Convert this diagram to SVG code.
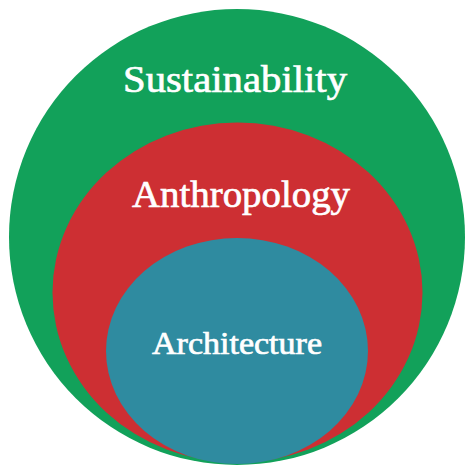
<svg xmlns="http://www.w3.org/2000/svg" width="474" height="474" viewBox="0 0 474 474">
  <style>
    .lbl { font-family: "Liberation Serif", "DejaVu Serif", serif; fill: #ffffff; stroke: #ffffff; stroke-width: 0.7; text-anchor: middle; }
  </style>
  <rect width="474" height="474" fill="#ffffff"/>
  <g id="sustainability">
    <circle cx="237" cy="237" r="228" fill="#12a15a"/>
    <text class="lbl" x="235" y="92" font-size="38" textLength="224" lengthAdjust="spacingAndGlyphs">Sustainability</text>
  </g>
  <g id="anthropology">
    <ellipse cx="237.5" cy="292.5" rx="185" ry="170" fill="#cd2f33"/>
    <text class="lbl" x="241" y="207" font-size="38" textLength="218" lengthAdjust="spacingAndGlyphs">Anthropology</text>
  </g>
  <g id="architecture">
    <ellipse cx="237" cy="351" rx="131" ry="113" fill="#2f8ba0"/>
    <text class="lbl" x="237" y="354" font-size="31" textLength="170" lengthAdjust="spacingAndGlyphs">Architecture</text>
  </g>
  <g id="connectors"/>
</svg>
